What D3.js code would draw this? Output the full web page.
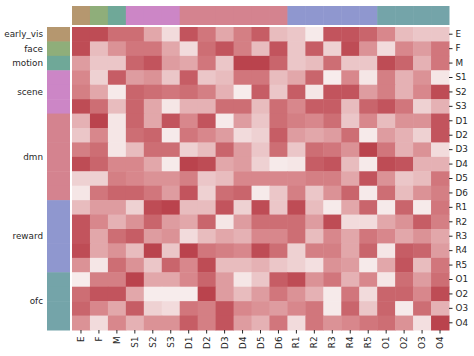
<!DOCTYPE html>
<html><head><meta charset="utf-8">
<script src="https://cdn.jsdelivr.net/npm/d3@7"></script>
<style>body{margin:0;background:#fff}svg{display:block}text{font-family:"DejaVu Sans",sans-serif;fill:#262626}</style>
</head><body><svg id="c" width="474" height="356"></svg>
<script>
const labels = ["E","F","M","S1","S2","S3","D1","D2","D3","D4","D5","D6","R1","R2","R3","R4","R5","O1","O2","O3","O4"];
const groupNames = ["early_vis","face","motion","scene","dmn","reward","ofc"];
const groupOf = ["early_vis","face","motion","scene","scene","scene","dmn","dmn","dmn","dmn","dmn","dmn","reward","reward","reward","reward","reward","ofc","ofc","ofc","ofc"];
const groupColors = ["#b5976f","#8fae7a","#6fa898","#cc86c6","#d4838f","#8f97cf","#74a4a9"];
const values = [
 [.85,.85,.65,.65,.35,.1,.8,.6,.35,.55,.75,.25,.2,.03,.8,.8,.7,.5,.25,.2,.2],
 [.85,.25,.45,.6,.6,.35,.1,.65,.8,.55,.25,.8,.2,.75,.15,.85,.45,.1,.5,.4,.6],
 [.4,.2,.2,.7,.8,.4,.35,.6,.2,.9,.9,.7,.2,.25,.65,.2,.2,.85,.7,.3,.6],
 [.5,.15,.75,.4,.45,.2,.75,.2,.25,.6,.6,.25,.35,.7,.02,.5,.05,.55,.3,.45,.05],
 [.55,.35,.03,.7,.65,.6,.65,.55,.3,.02,.75,.2,.75,.05,.8,.8,.4,.55,.3,.5,.85],
 [.85,.65,.25,.7,.35,.05,.3,.3,.65,.65,.25,.65,.5,.75,.75,.25,.7,.8,.6,.15,.3],
 [.3,.9,.05,.7,.35,.8,.5,.8,.03,.4,.2,.65,.55,.5,.65,.2,.5,.25,.45,.45,.8],
 [.2,.5,.05,.65,.7,.03,.6,.5,.4,.1,.15,.75,.4,.35,.4,.65,.03,.4,.3,.15,.8],
 [.55,.65,.05,.25,.65,.65,.15,.25,.7,.4,.2,.65,.2,.65,.6,.45,.9,.6,.3,.45,.1],
 [.85,.7,.5,.5,.35,.03,.9,.85,.35,.4,.15,.03,.05,.75,.8,.25,.03,.85,.8,.3,.3],
 [.15,.15,.55,.5,.45,.45,.55,.2,.25,.5,.5,.5,.5,.55,.55,.35,.8,.45,.2,.25,.6],
 [.05,.6,.7,.7,.6,.4,.8,.15,.65,.7,.03,.2,.55,.2,.45,.7,.03,.65,.25,.45,.55],
 [.25,.4,.4,.15,.85,.9,.25,.25,.8,.15,.85,.2,.85,.25,.03,.35,.7,.03,.7,.03,.6],
 [.8,.5,.3,.45,.7,.4,.35,.7,.05,.4,.65,.65,.65,.4,.85,.1,.1,.35,.45,.75,.55],
 [.8,.35,.65,.75,.4,.45,.1,.25,.35,.3,.5,.5,.65,.25,.5,.35,.6,.5,.35,.45,.35],
 [.85,.35,.45,.25,.9,.2,.9,.6,.55,.5,.85,.65,.15,.55,.55,.35,.7,.05,.75,.7,.4],
 [.45,.05,.65,.45,.2,.7,.5,.85,.25,.25,.3,.2,.15,.08,.45,.4,.03,.35,.8,.25,.6],
 [.02,.55,.55,.9,.35,.35,.5,.7,.4,.05,.2,.75,.85,.45,.6,.3,.5,.05,.65,.4,.65],
 [.65,.8,.8,.35,.02,.02,.02,.9,.4,.25,.4,.6,.45,.3,.03,.6,.1,.7,.7,.5,.85],
 [.7,.5,.35,.75,.15,.1,.6,.55,.8,.5,.45,.4,.5,.6,.03,.7,.2,.7,.03,.65,.3],
 [.45,.1,.5,.3,.45,.45,.75,.55,.8,.4,.3,.6,.1,.6,.45,.5,.6,.65,.45,.08,.9]
];

const svg = d3.select("#c");
const L = 72, R = 449, T = 27, B = 330;
const FS = 8.8;
const x = d3.scaleBand().domain(labels).range([L, R]);
const y = d3.scaleBand().domain(labels).range([T, B]);
const color = d3.scaleLinear().domain([0, 0.5, 1]).range(["#f8f0f0", "#d8878c", "#b3323d"]).interpolate(d3.interpolateRgb);
const gcol = d3.scaleOrdinal().domain(groupNames).range(groupColors);

const cells = [];
values.forEach((row, i) => row.forEach((v, j) => cells.push({r: labels[i], c: labels[j], v})));
svg.append("g").selectAll("rect").data(cells).join("rect")
  .attr("x", d => x(d.c)).attr("y", d => y(d.r))
  .attr("width", x.bandwidth() + 0.5).attr("height", y.bandwidth() + 0.5)
  .attr("fill", d => color(d.v));

// top color bar
svg.append("g").selectAll("rect").data(labels).join("rect")
  .attr("x", d => x(d)).attr("y", 6).attr("width", x.bandwidth() + 0.5).attr("height", 19)
  .attr("fill", (d, i) => gcol(groupOf[i]));
// left color bar
svg.append("g").selectAll("rect").data(labels).join("rect")
  .attr("x", 47).attr("y", d => y(d)).attr("width", 23).attr("height", y.bandwidth() + 0.5)
  .attr("fill", (d, i) => gcol(groupOf[i]));

// group labels on left
const gl = svg.append("g");
groupNames.forEach(g => {
  const idx = groupOf.map((v, i) => v === g ? i : -1).filter(i => i >= 0);
  const y0 = y(labels[idx[0]]), y1 = y(labels[idx[idx.length - 1]]) + y.bandwidth();
  gl.append("text").attr("x", 43).attr("y", (y0 + y1) / 2).attr("dy", "0.35em")
    .attr("text-anchor", "end").attr("font-size", FS).text(g);
});

// right axis
const ra = svg.append("g").attr("transform", `translate(${R},0)`)
  .call(d3.axisRight(y).tickSize(3.5).tickPadding(3));
ra.select(".domain").remove();
ra.selectAll("text").attr("font-size", FS).attr("font-family", "DejaVu Sans").attr("fill", "#262626");
ra.selectAll("line").attr("stroke", "#262626");

// bottom axis
const ba = svg.append("g").attr("transform", `translate(0,${B})`)
  .call(d3.axisBottom(x).tickSize(3.5).tickPadding(3));
ba.select(".domain").remove();
ba.selectAll("line").attr("stroke", "#262626");
ba.selectAll("text").attr("font-size", FS).attr("font-family", "DejaVu Sans").attr("fill", "#262626")
  .attr("transform", "rotate(-90)").attr("text-anchor", "end").attr("x", -6.5).attr("y", 0).attr("dy", "0.35em");
</script></body></html>
